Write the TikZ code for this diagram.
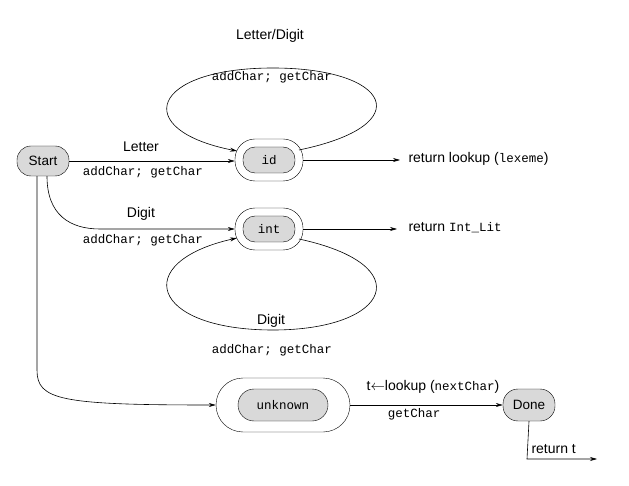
\documentclass[tikz,border=0pt]{standalone}
\usepackage{fontspec}
\setmainfont{Liberation Sans}
\setmonofont{Liberation Mono}
\usetikzlibrary{arrows.meta,shapes.geometric}
\begin{document}
\begin{tikzpicture}[x=1pt,y=-1pt,
  st/.style={draw,fill=gray!30,rounded corners=14pt,minimum height=30pt,font=\fontsize{13.5}{15}\selectfont,inner xsep=4pt},
  acc/.style={draw,rounded corners=20pt,minimum width=68pt,minimum height=42pt},
  inner/.style={draw,fill=gray!30,rounded corners=12pt,minimum width=52pt,minimum height=26pt,font=\ttfamily\fontsize{12.5}{14}\selectfont},
  arr/.style={-{Stealth[length=7pt,width=4pt]},line width=0.6pt},
  lab/.style={font=\fontsize{14}{16}\selectfont},
  code/.style={font=\ttfamily\fontsize{12.5}{15}\selectfont}]
\useasboundingbox (0,0) rectangle (629,486);
\node[st,minimum width=52pt] (start) at (43,161) {Start};
\node[acc] (id) at (269,160) {};
\node[inner] (idi) at (269,160) {id};
\node[acc] (int) at (269,229) {};
\node[inner] (inti) at (269,229) {int};
\node[draw,rounded corners=27pt,minimum width=134pt,minimum height=54pt] (unk) at (283,405) {};
\node[draw,fill=gray!30,rounded corners=16pt,minimum width=90pt,minimum height=32pt,font=\ttfamily\fontsize{12.5}{14}\selectfont] (unki) at (283,405) {unknown};
\node[st,minimum width=52pt,minimum height=32pt,rounded corners=15pt] (done) at (529,405) {Done};
\coordinate (r1) at (400,160);
\coordinate (r2) at (397,229);
\coordinate (r3) at (597,459);
% edges
\draw[arr] (start.east) -- (id.west |- start.east);
\draw[arr] ([xshift=4pt]start.south) .. controls (47,215) and (70,229) .. (100,229) -- (int.west);
\draw[arr] ([xshift=-6pt]start.south) -- (37,370) .. controls (37,400) and (60,405) .. (unk.west);
\draw[arr] (unk.east) -- (done.west);
\draw[arr] (done.south) -- (527,459) -- (r3);
\draw[arr] (id.east) -- (r1);
\draw[arr] (int.east) -- (r2);
% loops
\draw[arr] (299,150) .. controls (420,125) and (390,68) .. (273,68) .. controls (150,68) and (130,130) .. (237,151);
\draw[arr] (299,239) .. controls (420,265) and (390,330) .. (273,330) .. controls (150,330) and (130,262) .. (237,238);
% labels
\node[lab] at (270,36) {Letter/Digit};
\node[code] at (272,77) {addChar; getChar};
\node[lab] at (141,147) {Letter};
\node[code] at (143,172) {addChar; getChar};
\node[lab] at (141,214) {Digit};
\node[code] at (143,240) {addChar; getChar};
\node[lab] at (271,321) {Digit};
\node[code] at (272,350) {addChar; getChar};
\node[lab,anchor=west] at (405,159) {return lookup ({\ttfamily\fontsize{12.5}{14}\selectfont lexeme})};
\node[lab,anchor=west] at (405,228) {return {\ttfamily\fontsize{12.5}{14}\selectfont Int\_Lit}};
\node[lab] at (433,387) {t$\leftarrow$lookup ({\ttfamily\fontsize{12.5}{14}\selectfont nextChar})};
\node[code] at (414,414) {getChar};
\node[lab,anchor=west] at (528,449) {return t};
\end{tikzpicture}
\end{document}
